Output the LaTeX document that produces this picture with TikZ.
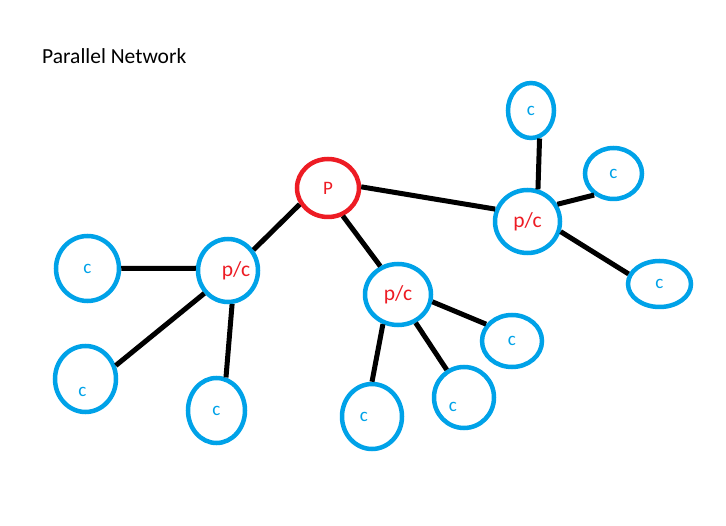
\documentclass[tikz,border=0pt]{standalone}
\usepackage{fontspec}
\setmainfont{Carlito}
\usetikzlibrary{shapes.geometric}
\definecolor{paintblue}{RGB}{0,162,232}
\definecolor{paintred}{RGB}{237,28,36}

\begin{document}
\begin{tikzpicture}[
    x=1pt, y=-1pt,
    every node/.style={font=\fontsize{19}{21}\selectfont},
    size/.style 2 args={minimum width=#1pt, minimum height=#2pt},
    child/.style={draw=paintblue, ellipse, line width=4.5pt, inner sep=0pt, text=paintblue},
    relay/.style={child, text=paintred, font=\fontsize{21.5}{23}\selectfont},
    root/.style={child, draw=paintred, text=paintred},
    shifted/.style 2 args={xshift=#1pt, yshift=-#2pt, text=paintblue},
    link/.style={line width=5pt}
]
\useasboundingbox (0,0) rectangle (726,526);
\node[anchor=base west, inner sep=0pt, font=\fontsize{21.5}{25}\selectfont] (title) at (42,64) {Parallel Network};
\node[root, size={62}{58}] (P) at (328,188) {P};
\node[relay, size={60}{63}, label={[shifted={8}{0}, text=paintred, font=\fontsize{21.5}{23}\selectfont]center:p/c}] (pcL) at (228,270.5) {};
\node[relay, size={66}{61}] (pcM) at (398,294.5) {p/c};
\node[relay, size={65}{63}] (pcR) at (527.5,221.5) {p/c};
\node[child, size={63}{65}] (cL1) at (87.5,268.5) {c};
\node[child, size={61}{66}, label={[shifted={-3}{13}]center:c}] (cL2) at (85.5,379) {};
\node[child, size={57}{65}] (cL3) at (216.5,410.5) {c};
\node[child, size={60}{65}, label={[shifted={-8}{0}]center:c}] (cM1) at (372,416.5) {};
\node[child, size={60}{61}, label={[shifted={-11}{9}]center:c}] (cM2) at (464,397.5) {};
\node[child, size={60}{52}] (cM3) at (512,341) {c};
\node[child, size={46}{55}] (cR1) at (531,110.5) {c};
\node[child, size={57}{51}] (cR2) at (613.5,173.5) {c};
\node[child, size={63}{46}] (cR3) at (659.5,284) {c};
\draw[link] (P.210) -- (pcL.39);
\draw[link] (P.298) -- (pcM.122);
\draw[link] (P.2) -- (pcR.159);
\draw[link] (cL1.0) -- (pcL.176);
\draw[link] (pcL.224) -- (cL2.24);
\draw[link] (pcL.277) -- (cL3.74);
\draw[link] (pcM.243) -- (cM1.90);
\draw[link] (pcM.302) -- (cM2.122);
\draw[link] (pcM.348) -- (cM3.147);
\draw[link] (pcR.72) -- (cR1.287);
\draw[link] (pcR.30) -- (cR2.228);
\draw[link] (pcR.343) -- (cR3.162);
\end{tikzpicture}
\end{document}
